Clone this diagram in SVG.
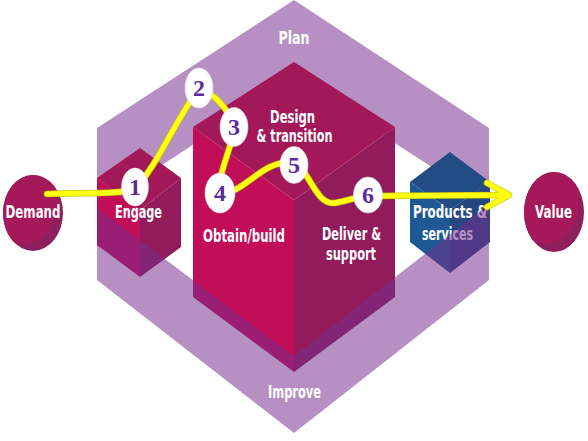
<svg xmlns="http://www.w3.org/2000/svg" xmlns:xlink="http://www.w3.org/1999/xlink" width="588" height="441" viewBox="0 0 588 441">
<style>
.band{fill:#752d8c;fill-opacity:0.53}
.lbl{fill:#ffffff;font-family:"Liberation Sans Narrow","DejaVu Sans Condensed","Liberation Sans",sans-serif;font-size:18px;font-weight:bold;text-anchor:middle}
.sm{font-size:17px}
.num{fill:#5b2a9e;font-family:"Liberation Serif","DejaVu Serif",serif;font-weight:bold;font-size:24px;text-anchor:middle}
.step{fill:#ffffff;stroke:#dcdcdc;stroke-width:0.6}
.yl-under{fill:none;stroke:#c9c900;stroke-width:6.5;stroke-linecap:round;stroke-linejoin:round}
.yl{fill:none;stroke:#ffff14;stroke-width:5;stroke-linecap:round;stroke-linejoin:round}
.mag-top{fill:#a31858}
.mag-left{fill:#c20e59}
.mag-right{fill:#921c5b}
</style>
<defs>
<clipPath id="cDemand"><ellipse cx="33" cy="213" rx="30" ry="38"/></clipPath>
<clipPath id="cValue"><ellipse cx="554" cy="212" rx="30" ry="40"/></clipPath>
<path id="flow" d="M47,194 C80,192 110,195 135,190 C160,160 170,130 199,88 C215,95 228,108 234,127 C232,150 218,170 220,193 C245,195 262,158 294,163 C310,170 315,205 335,203 C350,200 360,196 368,196 L508,195"/>
<path id="head" d="M487,183 L509,195 L487,207"/>
</defs>

<!-- Plan band (behind cubes) -->
<g id="plan">
<polygon class="band" points="97,128 294,0 489,128 489,204 294,78 97,208"/>
<text class="lbl" x="294" y="44" textLength="31" lengthAdjust="spacingAndGlyphs">Plan</text>
</g>

<!-- Demand -->
<g id="demand">
<ellipse cx="33" cy="213" rx="30" ry="38" fill="#8d1f5d"/>
<ellipse cx="24" cy="200" rx="34" ry="44" fill="#a5185a" clip-path="url(#cDemand)"/>
<text class="lbl" x="33" y="218" textLength="55" lengthAdjust="spacingAndGlyphs">Demand</text>
</g>

<!-- Engage cube -->
<g id="engage">
<polygon class="mag-top" points="140,148 181,178 140,210 97,178"/>
<polygon class="mag-left" points="97,178 140,210 140,277 97,245"/>
<polygon class="mag-right" points="181,178 140,210 140,277 181,247"/>
<text class="lbl" x="138.5" y="218" textLength="47" lengthAdjust="spacingAndGlyphs">Engage</text>
</g>

<!-- Central cube -->
<g id="design-transition">
<polygon class="mag-top" points="294,62 395,127 294,200 193,127"/>
<text class="lbl" x="292.5" y="123" textLength="45" lengthAdjust="spacingAndGlyphs">Design</text>
<text class="lbl" x="294.5" y="142" textLength="76" lengthAdjust="spacingAndGlyphs">&amp; transition</text>
</g>
<g id="obtain-build">
<polygon class="mag-left" points="193,127 294,200 294,372 193,297"/>
<text class="lbl" x="244" y="242" textLength="82" lengthAdjust="spacingAndGlyphs">Obtain/build</text>
</g>
<g id="deliver-support">
<polygon class="mag-right" points="395,127 294,200 294,372 395,297"/>
<text class="lbl sm" x="351.5" y="240" textLength="59" lengthAdjust="spacingAndGlyphs">Deliver &amp;</text>
<text class="lbl sm" x="351" y="260" textLength="50" lengthAdjust="spacingAndGlyphs">support</text>
</g>

<!-- Products & services cube -->
<g id="products-services">
<polygon fill="#224c84" points="450,152 490,182 450,210 410,182"/>
<polygon fill="#1f5995" points="410,182 450,210 450,273 410,242"/>
<polygon fill="#27467f" points="490,182 450,210 450,273 490,242"/>
<text class="lbl" x="450" y="218" textLength="74" lengthAdjust="spacingAndGlyphs">Products &amp;</text>
<text class="lbl" x="447.5" y="240" textLength="51" lengthAdjust="spacingAndGlyphs">services</text>
</g>

<!-- Improve band (in front, translucent) -->
<g id="improve">
<polygon class="band" points="97,208 294,356 489,204 489,280 294,433 97,280"/>
<text class="lbl" x="294.5" y="398" textLength="53" lengthAdjust="spacingAndGlyphs">Improve</text>
</g>

<!-- Value -->
<g id="value">
<ellipse cx="554" cy="212" rx="30" ry="40" fill="#8d1f5d"/>
<ellipse cx="545" cy="198" rx="34" ry="46" fill="#a5185a" clip-path="url(#cValue)"/>
<text class="lbl" x="553.5" y="218" textLength="37" lengthAdjust="spacingAndGlyphs">Value</text>
</g>

<!-- Connector: yellow flow -->
<g id="connectors">
<use xlink:href="#flow" class="yl-under"/>
<use xlink:href="#head" class="yl-under"/>
<use xlink:href="#flow" class="yl"/>
<use xlink:href="#head" class="yl"/>
</g>

<!-- Step markers -->
<g id="step1"><ellipse class="step" cx="135" cy="187" rx="13.5" ry="19"/><text class="num" x="135" y="195">1</text></g>
<g id="step2"><ellipse class="step" cx="199" cy="88" rx="14" ry="20"/><text class="num" x="199" y="96">2</text></g>
<g id="step3"><ellipse class="step" cx="234" cy="127" rx="14" ry="19.5"/><text class="num" x="234" y="135">3</text></g>
<g id="step4"><ellipse class="step" cx="220" cy="193" rx="15" ry="20"/><text class="num" x="220" y="201">4</text></g>
<g id="step5"><ellipse class="step" cx="294" cy="165" rx="14" ry="18.5"/><text class="num" x="294" y="173">5</text></g>
<g id="step6"><ellipse class="step" cx="368" cy="195" rx="14.5" ry="18"/><text class="num" x="368" y="203">6</text></g>
</svg>
